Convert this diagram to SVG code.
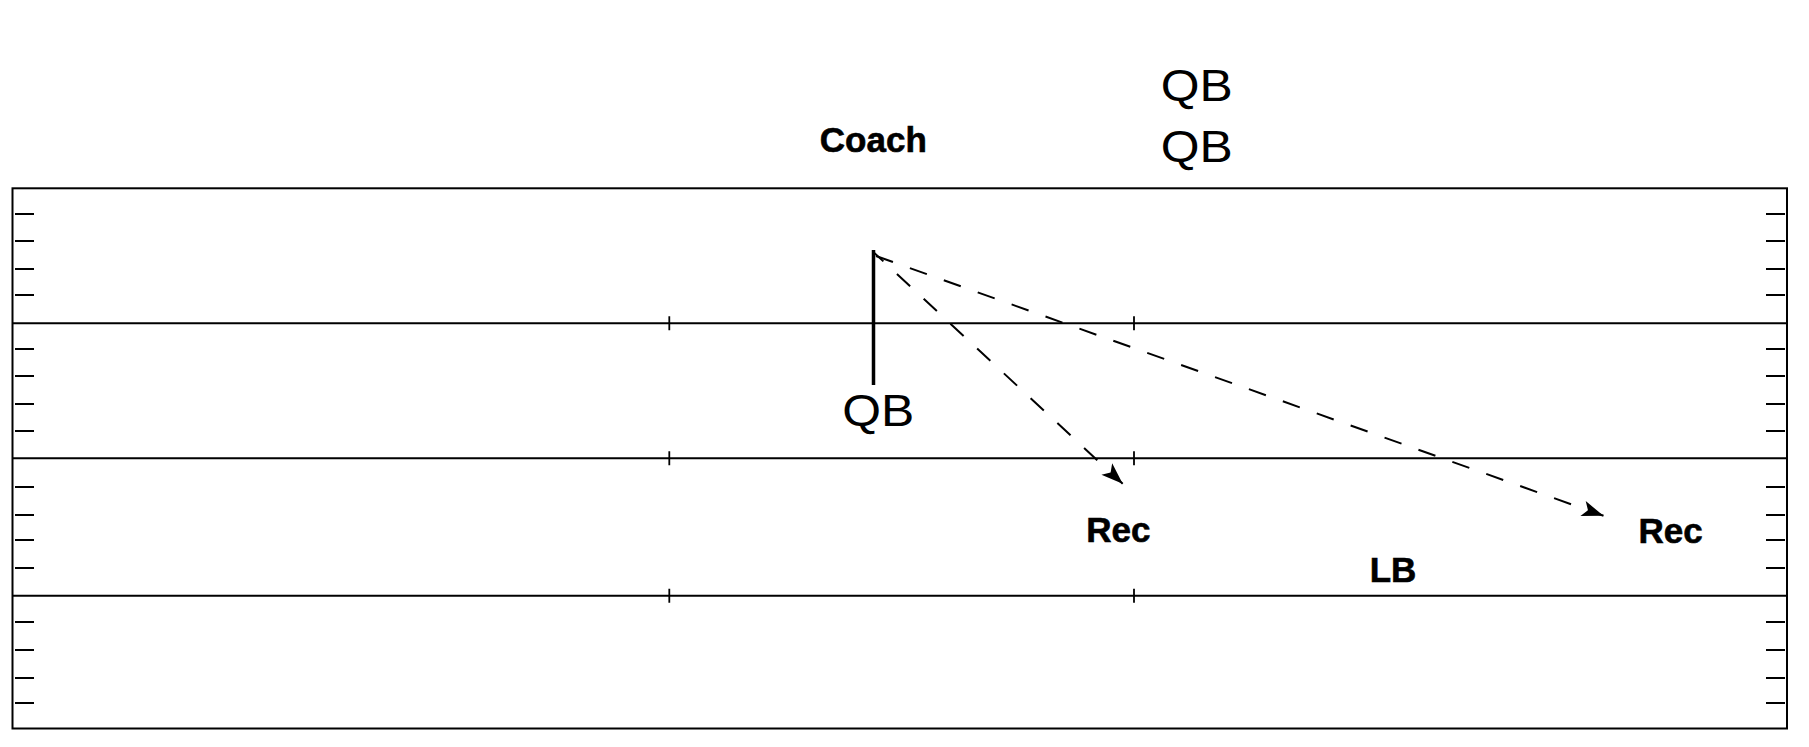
<svg xmlns="http://www.w3.org/2000/svg" width="1809" height="747" viewBox="0 0 1809 747">
<defs>
<style>
.fld{fill:none;stroke:#000;stroke-width:2}
.tk{stroke:#000;stroke-width:1.8}
.lbl{font-family:"Liberation Sans",Arial,sans-serif;fill:#000;text-anchor:middle}
.b{font-weight:bold;font-size:35px;stroke:#000;stroke-width:0.6}
.r{font-size:44px}
.route{fill:none;stroke:#000;stroke-width:2;stroke-dasharray:18 18}
</style>
<marker id="ah" viewBox="0 0 23 17" refX="22" refY="8.5" markerWidth="23" markerHeight="17" markerUnits="userSpaceOnUse" orient="auto" overflow="visible">
<path d="M22,8.5 L0.3,0.6 L5.5,8.5 L0.3,16.4 Z" fill="#000"/>
</marker>
</defs>
<rect width="1809" height="747" fill="#fff"/>
<g id="field">
<rect class="fld" x="12.5" y="188.3" width="1774.5" height="540.2"/>
<line class="fld" x1="12.5" y1="323.3" x2="1787" y2="323.3"/>
<line class="fld" x1="12.5" y1="458.3" x2="1787" y2="458.3"/>
<line class="fld" x1="12.5" y1="595.7" x2="1787" y2="595.7"/>
<g class="tk">
<path d="M15,214H34M15,241H34M15,269H34M15,295H34M15,349H34M15,376H34M15,404H34M15,431H34M15,487H34M15,515H34M15,540H34M15,568H34M15,622H34M15,650H34M15,678H34M15,703H34"/>
<path d="M1766,214H1785M1766,241H1785M1766,269H1785M1766,295H1785M1766,349H1785M1766,376H1785M1766,404H1785M1766,431H1785M1766,487H1785M1766,515H1785M1766,540H1785M1766,568H1785M1766,622H1785M1766,650H1785M1766,678H1785M1766,703H1785"/>
<path d="M669.3,316.3V330.3M669.3,451.3V465.3M669.3,588.7V602.7M1134,316.3V330.3M1134,451.3V465.3M1134,588.7V602.7"/>
</g>
</g>
<g id="connectors">
<line class="route" x1="873.5" y1="252.2" x2="1122.7" y2="483.8" style="stroke-dashoffset:4.5;stroke-dasharray:18 18.5" marker-end="url(#ah)"/>
<line class="route" x1="876" y1="256" x2="1603.5" y2="515.8" marker-end="url(#ah)"/>
</g>
<g id="coach"><text class="lbl b" x="873.3" y="151.7">Coach</text></g>
<g id="qb-top-1"><text class="lbl r" x="1196.7" y="101" textLength="72" lengthAdjust="spacingAndGlyphs">QB</text></g>
<g id="qb-top-2"><text class="lbl r" x="1196.7" y="162" textLength="72" lengthAdjust="spacingAndGlyphs">QB</text></g>
<g id="qb">
<line x1="873.5" y1="250" x2="873.5" y2="385" stroke="#000" stroke-width="3.5"/>
<text class="lbl r" x="878.3" y="426" textLength="72" lengthAdjust="spacingAndGlyphs">QB</text>
</g>
<g id="rec-1"><text class="lbl b" x="1118.3" y="541.7">Rec</text></g>
<g id="rec-2"><text class="lbl b" x="1670.5" y="542.5">Rec</text></g>
<g id="lb"><text class="lbl b" x="1393" y="581.5">LB</text></g>
</svg>
